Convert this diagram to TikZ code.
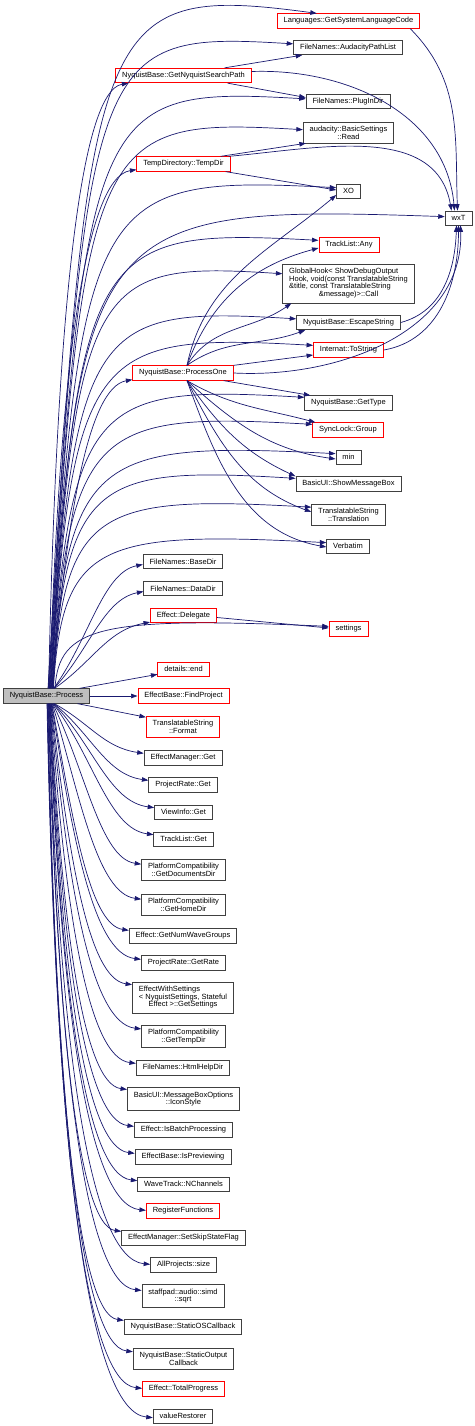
\documentclass[tikz,border=0pt]{standalone}
\usepackage{fontspec}
\setmainfont{Liberation Sans}
\usepackage{xcolor}
\usepackage{tikz}
\usetikzlibrary{
    arrows.meta,
    positioning,
    calc
}
\definecolor{edgeblue}{RGB}{25,25,112}
\definecolor{boxline}{RGB}{64,64,64}
\definecolor{rootfill}{RGB}{191,191,191}
\tikzset{
    funcnode/.style={
        draw=boxline,
        line width=0.7pt,
        fill=white,
        inner xsep=6.5pt,
        inner ysep=3.8pt,
        minimum height=14pt,
        align=center
    }
}
\tikzset{
    truncnode/.style={
        funcnode,
        draw=red
    }
}
\tikzset{
    rootnode/.style={
        funcnode,
        fill=rootfill
    }
}
\tikzset{
    calledge/.style={
        draw=edgeblue,
        line width=0.7pt,
        -{Triangle[length=6.5pt,width=4.5pt]}
    }
}
\tikzset{
    callcurve/.style={
        to path={
            let \p1=(\tikztostart), \p2=(\tikztotarget),
                \n1={min(0.4,60/abs(\y2-\y1))},
                \n2={min(\x2-\x1,120)},
                \n3={min(\x2-\x1,150)}
            in .. controls ({\x1+\n1*\n2}, {\y1+(0.7-0.75*\n1)*(\y2-\y1)})
                and ({\x1+(0.35+0.5*\n1)*\n3}, {\y2+(#1)}) .. (\tikztotarget)
        }
    }
}
\tikzset{
    archcurve/.style={
        to path={
            let \p1=(\tikztostart), \p2=(\tikztotarget)
            in .. controls ({\x1+0.06*abs(\y2-\y1)}, \y2)
                and ({\x1+45}, {\y2+(#1)}) .. (\tikztotarget)
        }
    }
}

\begin{document}
\begin{tikzpicture}[
    x=1pt,
    y=-1pt,
    font=\fontsize{7.5}{7.8}\selectfont
]

\path[use as bounding box, fill=white] (0,0) rectangle (474,1426);

\node[truncnode] (lang) at (348.5,21) {Languages::GetSystemLanguageCode};
\node[funcnode] (apl) at (348,47.5) {FileNames::AudacityPathList};
\node[truncnode] (nsp) at (183.5,75.5) {NyquistBase::GetNyquistSearchPath};
\node[funcnode] (plugin) at (348,101.5) {FileNames::PlugInDir};
\node[funcnode] (read) at (348.5,132.5) {audacity::BasicSettings\\::Read};
\node[truncnode] (tempdir) at (183.5,164) {TempDirectory::TempDir};
\node[funcnode] (xo) at (348.5,191) {XO};
\node[funcnode] (wxt) at (458.5,218) {wxT};
\node[truncnode] (tlany) at (349,245) {TrackList::Any};
\node[funcnode] (ghook) at (348.5,283.5)
    {\begin{tabular}{@{}l@{}}GlobalHook< ShowDebugOutput\\Hook, void(const TranslatableString\\\&title, const TranslatableString\\\multicolumn{1}{@{}c@{}}{\&message)>::Call}\end{tabular}};
\node[funcnode] (esc) at (348.5,322.5) {NyquistBase::EscapeString};
\node[truncnode] (tostr) at (348.5,350) {Internat::ToString};
\node[truncnode] (p1) at (183,373) {NyquistBase::ProcessOne};
\node[funcnode] (gettype) at (348.5,403) {NyquistBase::GetType};
\node[truncnode] (group) at (348,430) {SyncLock::Group};
\node[funcnode] (minfn) at (348.5,457) {min};
\node[funcnode] (smb) at (348.5,484) {BasicUI::ShowMessageBox};
\node[funcnode] (transl) at (348.5,515) {TranslatableString\\::Translation};
\node[funcnode] (verb) at (348,546) {Verbatim};
\node[funcnode] (basedir) at (183,561.5) {FileNames::BaseDir};
\node[funcnode] (datadir) at (183,588.5) {FileNames::DataDir};
\node[truncnode] (deleg) at (183.5,615.5) {Effect::Delegate};
\node[truncnode] (settings) at (348.5,629) {settings};
\node[truncnode] (dend) at (183.5,669) {details::end};

\node[rootnode] (proc) at (46.5,696) {NyquistBase::Process};
\node[truncnode] (findp) at (183.5,696) {EffectBase::FindProject};

\node[truncnode] (fmt) at (183,727) {TranslatableString\\::Format};
\node[funcnode] (emget) at (183,758) {EffectManager::Get};
\node[funcnode] (prget) at (183,785) {ProjectRate::Get};
\node[funcnode] (viget) at (183.5,812) {ViewInfo::Get};
\node[funcnode] (tlget) at (183.5,839) {TrackList::Get};
\node[funcnode] (docdir) at (183.5,870) {PlatformCompatibility\\::GetDocumentsDir};
\node[funcnode] (homedir) at (183.5,905) {PlatformCompatibility\\::GetHomeDir};
\node[funcnode] (nwg) at (183,936) {Effect::GetNumWaveGroups};
\node[funcnode] (rate) at (183.5,963) {ProjectRate::GetRate};
\node[funcnode] (getset) at (183,997.5)
    {\begin{tabular}{@{}l@{}}EffectWithSettings\\< NyquistSettings, Stateful\\\multicolumn{1}{@{}c@{}}{Effect >::GetSettings}\end{tabular}};
\node[funcnode] (tmpd) at (183.5,1036.5) {PlatformCompatibility\\::GetTempDir};
\node[funcnode] (html) at (183,1068) {FileNames::HtmlHelpDir};
\node[funcnode] (icon) at (183.5,1099) {BasicUI::MessageBoxOptions\\::IconStyle};
\node[funcnode] (batch) at (183.5,1130) {Effect::IsBatchProcessing};
\node[funcnode] (prev) at (183,1157) {EffectBase::IsPreviewing};
\node[funcnode] (nch) at (183.5,1184) {WaveTrack::NChannels};
\node[truncnode] (regf) at (183,1211) {RegisterFunctions};
\node[funcnode] (skip) at (183.5,1238) {EffectManager::SetSkipStateFlag};
\node[funcnode] (size) at (183.5,1265) {AllProjects::size};
\node[funcnode] (sqrt) at (183,1296) {staffpad::audio::simd\\::sqrt};
\node[funcnode] (oscb) at (183,1327) {NyquistBase::StaticOSCallback};
\node[funcnode] (outcb) at (183.5,1358.5) {NyquistBase::StaticOutput\\Callback};
\node[truncnode] (totp) at (183.5,1389) {Effect::TotalProgress};
\node[funcnode] (vrest) at (183,1416) {valueRestorer};

\draw[calledge] ([xshift=1.5pt]proc.north) to[archcurve=30pt] ([xshift=40pt]lang.north west);
\draw[calledge] ([xshift=1.8pt]proc.north) to[archcurve=12pt] ([yshift=-4pt]apl.north west);
\draw[calledge] ([xshift=2.1pt]proc.north) to[callcurve=-8pt] ([xshift=13pt]nsp.south west);
\draw[calledge] ([xshift=2.4pt]proc.north) to[archcurve=12pt] ([yshift=-5pt]plugin.north west);
\draw[calledge] ([xshift=2.7pt]proc.north) to[archcurve=12pt] ([yshift=-8pt]read.north west);
\draw[calledge] ([xshift=3pt]proc.north) to[callcurve=-8pt] ([yshift=2pt]tempdir.south west);
\draw[calledge] ([xshift=3.3pt]proc.north) to[archcurve=12pt] ([yshift=-4pt]xo.north west);
\draw[calledge] ([xshift=3.6pt]proc.north) to[archcurve=12pt] ([yshift=-6pt]wxt.north west);
\draw[calledge] ([xshift=3.9pt]proc.north) to[archcurve=12pt] ([yshift=-3pt]tlany.north west);
\draw[calledge] ([xshift=4.2pt]proc.north) to[archcurve=12pt] ([yshift=-10pt]ghook.north west);
\draw[calledge] ([xshift=4.5pt]proc.north) to[archcurve=12pt] ([yshift=-4pt]esc.north west);
\draw[calledge] ([xshift=4.8pt]proc.north) to[archcurve=12pt] ([yshift=-3pt]tostr.north west);
\draw[calledge] ([xshift=5.1pt]proc.north) to[callcurve=-8pt] ([yshift=1pt]p1.south west);
\draw[calledge] ([xshift=5.4pt]proc.north) to[archcurve=12pt] ([yshift=-2pt]gettype.north west);
\draw[calledge] ([xshift=5.7pt]proc.north) to[archcurve=12pt] ([yshift=-2pt]group.north west);
\draw[calledge] ([xshift=6pt]proc.north) to[archcurve=12pt] ([yshift=-4pt]minfn.north west);
\draw[calledge] ([xshift=6.3pt]proc.north) to[archcurve=12pt] ([yshift=-2pt]smb.north west);
\draw[calledge] ([xshift=6.6pt]proc.north) to[archcurve=12pt] ([yshift=-3pt]transl.north west);
\draw[calledge] ([xshift=6.9pt]proc.north) to[archcurve=12pt] ([yshift=-4pt]verb.north west);
\draw[calledge] ([xshift=7.2pt]proc.north) to[callcurve=-8pt] ([yshift=-3pt]basedir.west);
\draw[calledge] ([xshift=7.5pt]proc.north) to[callcurve=-8pt] ([yshift=-3pt]datadir.west);
\draw[calledge] ([xshift=8pt]proc.north) to[callcurve=-8pt] ([yshift=1pt]deleg.south west);
\draw[calledge] ([xshift=8.5pt]proc.north) to[archcurve=10pt] ([yshift=-5pt]settings.north west);
\draw[calledge] ([xshift=33pt]proc.north) -- ([yshift=2pt]dend.south west);
\draw[calledge] (proc) -- (findp);

\draw[calledge] ([xshift=31pt]proc.south) -- ([yshift=-1pt]fmt.north west);
\draw[calledge] ([xshift=8pt]proc.south) to[callcurve=6pt] ([yshift=-3pt]emget.north west);
\draw[calledge] ([xshift=7.5pt]proc.south) to[callcurve=6pt] ([yshift=-3pt]prget.north west);
\draw[calledge] ([xshift=7pt]proc.south) to[callcurve=6pt] ([yshift=-3pt]viget.north west);
\draw[calledge] ([xshift=6.6pt]proc.south) to[callcurve=6pt] ([yshift=-3pt]tlget.north west);
\draw[calledge] ([xshift=6.2pt]proc.south) to[callcurve=6pt] ([yshift=-5pt]docdir.north west);
\draw[calledge] ([xshift=5.8pt]proc.south) to[callcurve=6pt] ([yshift=-5pt]homedir.north west);
\draw[calledge] ([xshift=5.4pt]proc.south) to[callcurve=6pt] ([yshift=-2pt]nwg.north west);
\draw[calledge] ([xshift=5pt]proc.south) to[callcurve=6pt] ([yshift=-4pt]rate.north west);
\draw[calledge] ([xshift=4.7pt]proc.south) to[callcurve=6pt] ([yshift=-3pt]getset.north west);
\draw[calledge] ([xshift=4.4pt]proc.south) to[callcurve=6pt] ([yshift=-4pt]tmpd.north west);
\draw[calledge] ([xshift=4.1pt]proc.south) to[callcurve=6pt] ([yshift=-3pt]html.north west);
\draw[calledge] ([xshift=3.8pt]proc.south) to[callcurve=6pt] ([yshift=-2pt]icon.north west);
\draw[calledge] ([xshift=3.5pt]proc.south) to[callcurve=6pt] ([yshift=-4pt]batch.north west);
\draw[calledge] ([xshift=3.2pt]proc.south) to[callcurve=6pt] ([yshift=-4pt]prev.north west);
\draw[calledge] ([xshift=2.9pt]proc.south) to[callcurve=6pt] ([yshift=-4pt]nch.north west);
\draw[calledge] ([xshift=2.6pt]proc.south) to[callcurve=6pt] ([yshift=-7pt]regf.north west);
\draw[calledge] ([xshift=2.3pt]proc.south) to[callcurve=6pt] ([yshift=-1pt]skip.north west);
\draw[calledge] ([xshift=2pt]proc.south) to[callcurve=6pt] ([yshift=-7pt]size.north west);
\draw[calledge] ([xshift=1.7pt]proc.south) to[callcurve=6pt] ([yshift=-6pt]sqrt.north west);
\draw[calledge] ([xshift=1.4pt]proc.south) to[callcurve=6pt] ([yshift=-1pt]oscb.north west);
\draw[calledge] ([xshift=1.1pt]proc.south) to[callcurve=6pt] ([yshift=-4pt]outcb.north west);
\draw[calledge] ([xshift=0.8pt]proc.south) to[callcurve=6pt] ([yshift=-7pt]totp.north west);
\draw[calledge] ([xshift=0.5pt]proc.south) to[callcurve=6pt] ([yshift=-9pt]vrest.north west);

\draw[calledge] ([xshift=4pt]p1.north) to[out=78,in=-140] ([yshift=-4pt]xo.west);
\draw[calledge] ([xshift=4pt]p1.north) to[out=70,in=195] ([yshift=-3pt]tlany.west);
\draw[calledge] ([xshift=4pt]p1.north) to[out=58,in=-145] ([xshift=9pt]ghook.south west);
\draw[calledge] ([xshift=4pt]p1.north) to[out=35,in=200] ([xshift=9pt]esc.south west);
\draw[calledge] (p1.north east) -- ([yshift=-5pt]tostr.west);
\draw[calledge] (p1.east) to[out=-3,in=-88] ([xshift=2pt]wxt.south);
\draw[calledge] ([xshift=-10pt]p1.south east) -- ([xshift=6pt]gettype.north west);
\draw[calledge] ([xshift=4pt]p1.south) to[out=-30,in=165] ([xshift=3pt]group.north west);
\draw[calledge] ([xshift=4pt]p1.south) to[out=-42,in=172] ([yshift=-2pt]minfn.west);
\draw[calledge] ([xshift=4pt]p1.south) to[out=-55,in=155] (smb.north west);
\draw[calledge] ([xshift=4pt]p1.south) to[out=-63,in=160] ([yshift=3pt]transl.west);
\draw[calledge] ([xshift=4pt]p1.south) to[out=-70,in=170] ([yshift=-1pt]verb.west);

\draw[calledge] ([xshift=-27pt]nsp.north east) -- ([xshift=9pt]apl.south west);
\draw[calledge] ([xshift=-24pt]nsp.south east) -- ([yshift=4pt]plugin.west);
\draw[calledge] ([yshift=4pt]nsp.east) to[out=2,in=95] ([xshift=-4pt]wxt.north);
\draw[calledge] ([xshift=-10pt]lang.south east) to[out=-45,in=92] ([xshift=-1pt]wxt.north);
\draw[calledge] ([xshift=-10pt]tempdir.north east) -- ([xshift=3pt]read.south west);
\draw[calledge] ([xshift=-2pt]tempdir.north east) to[out=5,in=100] ([xshift=-7pt]wxt.north);
\draw[calledge] ([xshift=-5pt]tempdir.south east) -- ([yshift=1pt]xo.west);
\draw[calledge] (esc.east) to[out=15,in=-92] ([xshift=-2pt]wxt.south);
\draw[calledge] (tostr.east) to[out=10,in=-90] (wxt.south);
\draw[calledge] ([yshift=-2pt]deleg.east) -- ([yshift=1pt]settings.west);

\end{tikzpicture}
\end{document}
